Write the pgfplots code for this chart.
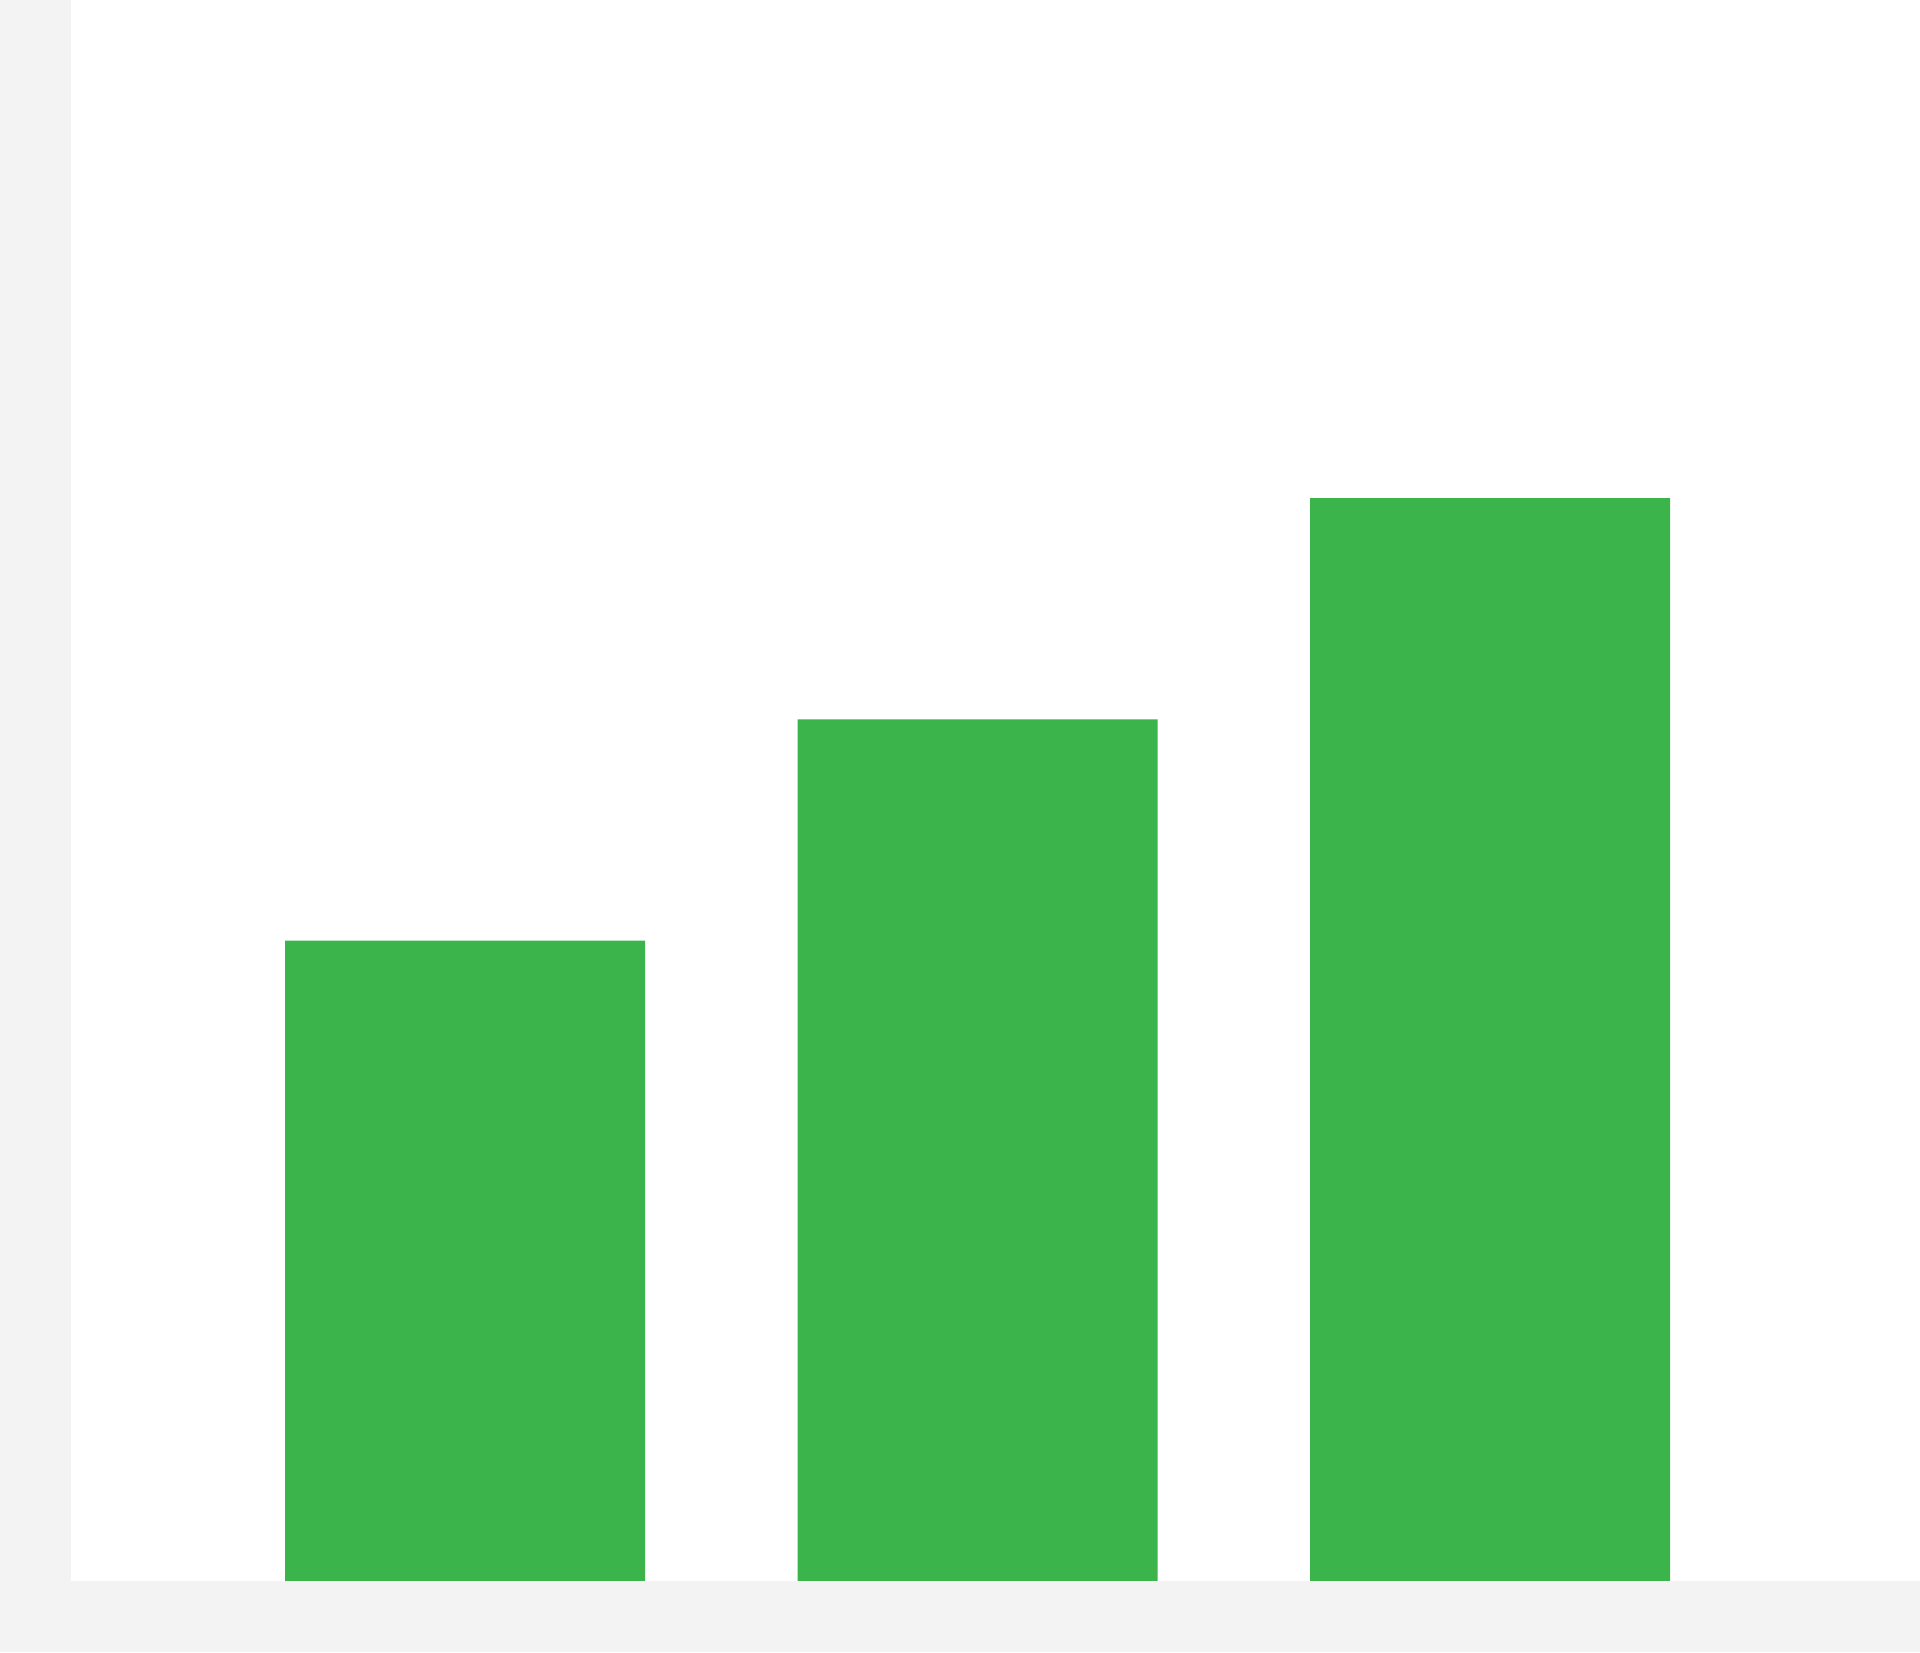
\documentclass[border=0pt]{standalone}
\usepackage{pgfplots}
\pgfplotsset{compat=1.18}
\definecolor{bgray}{HTML}{F2F3F2}
\definecolor{bgreen}{HTML}{3BB54B}
\begin{document}
\begin{tikzpicture}
\fill[bgray] (0,0) rectangle (480pt,413pt);
\fill[white] (17.75pt,17.75pt) rectangle (480pt,413pt);
\begin{axis}[
  at={(17.75pt,17.75pt)}, anchor=south west,
  scale only axis, width=462.25pt, height=395.25pt,
  xmin=-0.769, xmax=2.839, ymin=0, ymax=100,
  axis lines=none, ticks=none,
  ybar, bar width=90pt,
  clip=false,
]
\addplot[fill=bgreen, draw=none] coordinates {(0,40.5) (1,54.5) (2,68.5)};
\end{axis}
\end{tikzpicture}
\end{document}
